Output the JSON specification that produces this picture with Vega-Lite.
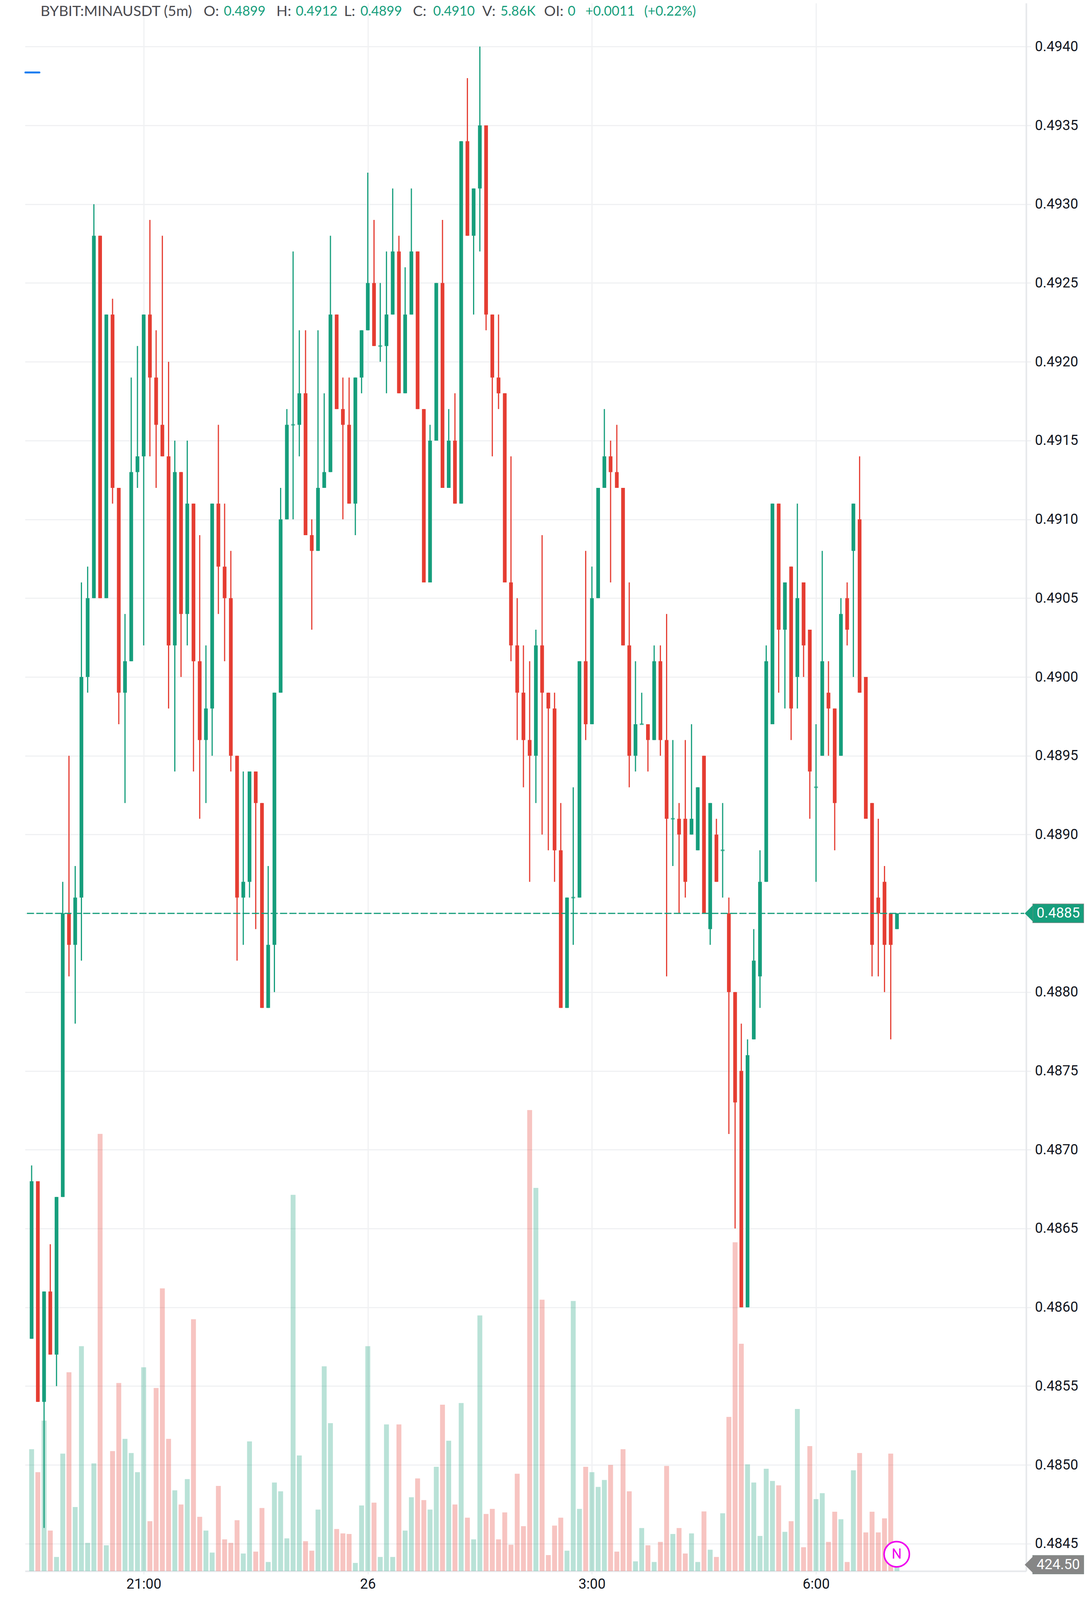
{"$schema":"https://vega.github.io/schema/vega-lite/v6.json","width":2563,"height":4014,"autosize":{"type":"none"},"padding":{"left":64,"top":8,"right":166,"bottom":70},"background":"white","config":{"view":{"stroke":null}},
"datasets":{"candles":[
{"t":"2024-01-25T19:30:00Z","o":0.4858,"h":0.4869,"l":0.4858,"c":0.4868,"v":8877,"d":"up"},
{"t":"2024-01-25T19:35:00Z","o":0.4868,"h":0.4868,"l":0.4854,"c":0.4854,"v":7207,"d":"down"},
{"t":"2024-01-25T19:40:00Z","o":0.4854,"h":0.4861,"l":0.4846,"c":0.4861,"v":10960,"d":"up"},
{"t":"2024-01-25T19:45:00Z","o":0.4861,"h":0.4864,"l":0.4857,"c":0.4857,"v":2952,"d":"down"},
{"t":"2024-01-25T19:50:00Z","o":0.4857,"h":0.4867,"l":0.4855,"c":0.4867,"v":1030,"d":"up"},
{"t":"2024-01-25T19:55:00Z","o":0.4867,"h":0.4887,"l":0.4867,"c":0.4885,"v":8557,"d":"up"},
{"t":"2024-01-25T20:00:00Z","o":0.4885,"h":0.4895,"l":0.4881,"c":0.4883,"v":14483,"d":"down"},
{"t":"2024-01-25T20:05:00Z","o":0.4883,"h":0.4888,"l":0.4878,"c":0.4886,"v":4668,"d":"up"},
{"t":"2024-01-25T20:10:00Z","o":0.4886,"h":0.4906,"l":0.4882,"c":0.49,"v":16382,"d":"up"},
{"t":"2024-01-25T20:15:00Z","o":0.49,"h":0.4907,"l":0.4899,"c":0.4905,"v":2059,"d":"up"},
{"t":"2024-01-25T20:20:00Z","o":0.4905,"h":0.493,"l":0.4905,"c":0.4928,"v":7848,"d":"up"},
{"t":"2024-01-25T20:25:00Z","o":0.4928,"h":0.4928,"l":0.4905,"c":0.4905,"v":31849,"d":"down"},
{"t":"2024-01-25T20:30:00Z","o":0.4905,"h":0.4923,"l":0.4905,"c":0.4923,"v":1876,"d":"up"},
{"t":"2024-01-25T20:35:00Z","o":0.4923,"h":0.4924,"l":0.4911,"c":0.4912,"v":8740,"d":"down"},
{"t":"2024-01-25T20:40:00Z","o":0.4912,"h":0.4912,"l":0.4897,"c":0.4899,"v":13705,"d":"down"},
{"t":"2024-01-25T20:45:00Z","o":0.4899,"h":0.4904,"l":0.4892,"c":0.4901,"v":9632,"d":"up"},
{"t":"2024-01-25T20:50:00Z","o":0.4901,"h":0.4919,"l":0.4901,"c":0.4913,"v":8603,"d":"up"},
{"t":"2024-01-25T20:55:00Z","o":0.4913,"h":0.4921,"l":0.4912,"c":0.4914,"v":7207,"d":"up"},
{"t":"2024-01-25T21:00:00Z","o":0.4914,"h":0.4923,"l":0.4902,"c":0.4923,"v":14849,"d":"up"},
{"t":"2024-01-25T21:05:00Z","o":0.4923,"h":0.4929,"l":0.4914,"c":0.4919,"v":3638,"d":"down"},
{"t":"2024-01-25T21:10:00Z","o":0.4919,"h":0.4922,"l":0.4912,"c":0.4916,"v":13339,"d":"down"},
{"t":"2024-01-25T21:15:00Z","o":0.4916,"h":0.4928,"l":0.4914,"c":0.4914,"v":20592,"d":"down"},
{"t":"2024-01-25T21:20:00Z","o":0.4914,"h":0.492,"l":0.4898,"c":0.4902,"v":9632,"d":"down"},
{"t":"2024-01-25T21:25:00Z","o":0.4902,"h":0.4915,"l":0.4894,"c":0.4913,"v":5880,"d":"up"},
{"t":"2024-01-25T21:30:00Z","o":0.4913,"h":0.4913,"l":0.49,"c":0.4904,"v":4851,"d":"down"},
{"t":"2024-01-25T21:35:00Z","o":0.4904,"h":0.4915,"l":0.4902,"c":0.4911,"v":6704,"d":"up"},
{"t":"2024-01-25T21:40:00Z","o":0.4911,"h":0.4911,"l":0.4894,"c":0.4901,"v":18350,"d":"down"},
{"t":"2024-01-25T21:45:00Z","o":0.4901,"h":0.4909,"l":0.4891,"c":0.4896,"v":3958,"d":"down"},
{"t":"2024-01-25T21:50:00Z","o":0.4896,"h":0.4902,"l":0.4892,"c":0.4898,"v":2952,"d":"up"},
{"t":"2024-01-25T21:55:00Z","o":0.4898,"h":0.4911,"l":0.4895,"c":0.4911,"v":1350,"d":"up"},
{"t":"2024-01-25T22:00:00Z","o":0.4911,"h":0.4916,"l":0.4904,"c":0.4907,"v":6200,"d":"down"},
{"t":"2024-01-25T22:05:00Z","o":0.4907,"h":0.4911,"l":0.4901,"c":0.4905,"v":2311,"d":"down"},
{"t":"2024-01-25T22:10:00Z","o":0.4905,"h":0.4908,"l":0.4894,"c":0.4895,"v":2059,"d":"down"},
{"t":"2024-01-25T22:15:00Z","o":0.4895,"h":0.4895,"l":0.4882,"c":0.4886,"v":3707,"d":"down"},
{"t":"2024-01-25T22:20:00Z","o":0.4886,"h":0.4894,"l":0.4883,"c":0.4887,"v":1281,"d":"up"},
{"t":"2024-01-25T22:25:00Z","o":0.4887,"h":0.4894,"l":0.4886,"c":0.4894,"v":9449,"d":"up"},
{"t":"2024-01-25T22:30:00Z","o":0.4894,"h":0.4894,"l":0.4884,"c":0.4892,"v":1419,"d":"down"},
{"t":"2024-01-25T22:35:00Z","o":0.4892,"h":0.4892,"l":0.4879,"c":0.4879,"v":4599,"d":"down"},
{"t":"2024-01-25T22:40:00Z","o":0.4879,"h":0.4888,"l":0.4879,"c":0.4883,"v":664,"d":"up"},
{"t":"2024-01-25T22:45:00Z","o":0.4883,"h":0.4899,"l":0.488,"c":0.4899,"v":6452,"d":"up"},
{"t":"2024-01-25T22:50:00Z","o":0.4899,"h":0.4912,"l":0.4899,"c":0.491,"v":5812,"d":"up"},
{"t":"2024-01-25T22:55:00Z","o":0.491,"h":0.4917,"l":0.491,"c":0.4916,"v":2380,"d":"up"},
{"t":"2024-01-25T23:00:00Z","o":0.4916,"h":0.4927,"l":0.491,"c":0.4916,"v":27410,"d":"up"},
{"t":"2024-01-25T23:05:00Z","o":0.4916,"h":0.4922,"l":0.4914,"c":0.4918,"v":8420,"d":"up"},
{"t":"2024-01-25T23:10:00Z","o":0.4918,"h":0.4922,"l":0.4909,"c":0.4909,"v":2174,"d":"down"},
{"t":"2024-01-25T23:15:00Z","o":0.4909,"h":0.491,"l":0.4903,"c":0.4908,"v":1487,"d":"down"},
{"t":"2024-01-25T23:20:00Z","o":0.4908,"h":0.4922,"l":0.4908,"c":0.4912,"v":4484,"d":"up"},
{"t":"2024-01-25T23:25:00Z","o":0.4912,"h":0.4918,"l":0.4912,"c":0.4913,"v":14918,"d":"up"},
{"t":"2024-01-25T23:30:00Z","o":0.4913,"h":0.4928,"l":0.4913,"c":0.4923,"v":10776,"d":"up"},
{"t":"2024-01-25T23:35:00Z","o":0.4923,"h":0.4923,"l":0.4917,"c":0.4917,"v":3066,"d":"down"},
{"t":"2024-01-25T23:40:00Z","o":0.4917,"h":0.4919,"l":0.491,"c":0.4916,"v":2746,"d":"down"},
{"t":"2024-01-25T23:45:00Z","o":0.4916,"h":0.4919,"l":0.4911,"c":0.4911,"v":2700,"d":"down"},
{"t":"2024-01-25T23:50:00Z","o":0.4911,"h":0.4919,"l":0.4909,"c":0.4919,"v":595,"d":"up"},
{"t":"2024-01-25T23:55:00Z","o":0.4919,"h":0.4922,"l":0.4918,"c":0.4922,"v":4782,"d":"up"},
{"t":"2024-01-26T00:00:00Z","o":0.4922,"h":0.4932,"l":0.4922,"c":0.4925,"v":16382,"d":"up"},
{"t":"2024-01-26T00:05:00Z","o":0.4925,"h":0.4929,"l":0.4921,"c":0.4921,"v":4988,"d":"down"},
{"t":"2024-01-26T00:10:00Z","o":0.4921,"h":0.4925,"l":0.492,"c":0.4921,"v":1030,"d":"up"},
{"t":"2024-01-26T00:15:00Z","o":0.4921,"h":0.4927,"l":0.4918,"c":0.4923,"v":10685,"d":"up"},
{"t":"2024-01-26T00:20:00Z","o":0.4923,"h":0.4931,"l":0.4923,"c":0.4927,"v":1030,"d":"up"},
{"t":"2024-01-26T00:25:00Z","o":0.4927,"h":0.4928,"l":0.4918,"c":0.4918,"v":10685,"d":"down"},
{"t":"2024-01-26T00:30:00Z","o":0.4918,"h":0.4926,"l":0.4918,"c":0.4923,"v":2952,"d":"up"},
{"t":"2024-01-26T00:35:00Z","o":0.4923,"h":0.4931,"l":0.4923,"c":0.4927,"v":5377,"d":"up"},
{"t":"2024-01-26T00:40:00Z","o":0.4927,"h":0.4927,"l":0.4917,"c":0.4917,"v":6750,"d":"down"},
{"t":"2024-01-26T00:45:00Z","o":0.4917,"h":0.4917,"l":0.4906,"c":0.4906,"v":5171,"d":"down"},
{"t":"2024-01-26T00:50:00Z","o":0.4906,"h":0.4916,"l":0.4906,"c":0.4915,"v":4484,"d":"up"},
{"t":"2024-01-26T00:55:00Z","o":0.4915,"h":0.4925,"l":0.4915,"c":0.4925,"v":7596,"d":"up"},
{"t":"2024-01-26T01:00:00Z","o":0.4925,"h":0.4929,"l":0.4912,"c":0.4912,"v":12126,"d":"down"},
{"t":"2024-01-26T01:05:00Z","o":0.4912,"h":0.4917,"l":0.4912,"c":0.4915,"v":9495,"d":"up"},
{"t":"2024-01-26T01:10:00Z","o":0.4915,"h":0.4918,"l":0.4911,"c":0.4911,"v":4851,"d":"down"},
{"t":"2024-01-26T01:15:00Z","o":0.4911,"h":0.4934,"l":0.4911,"c":0.4934,"v":12241,"d":"up"},
{"t":"2024-01-26T01:20:00Z","o":0.4934,"h":0.4938,"l":0.4928,"c":0.4928,"v":3890,"d":"down"},
{"t":"2024-01-26T01:25:00Z","o":0.4928,"h":0.4931,"l":0.4923,"c":0.4931,"v":2311,"d":"up"},
{"t":"2024-01-26T01:30:00Z","o":0.4931,"h":0.494,"l":0.4927,"c":0.4935,"v":18624,"d":"up"},
{"t":"2024-01-26T01:35:00Z","o":0.4935,"h":0.4935,"l":0.4922,"c":0.4923,"v":4164,"d":"down"},
{"t":"2024-01-26T01:40:00Z","o":0.4923,"h":0.4923,"l":0.4914,"c":0.4919,"v":4530,"d":"down"},
{"t":"2024-01-26T01:45:00Z","o":0.4919,"h":0.4923,"l":0.4917,"c":0.4918,"v":2311,"d":"down"},
{"t":"2024-01-26T01:50:00Z","o":0.4918,"h":0.4918,"l":0.4906,"c":0.4906,"v":4279,"d":"down"},
{"t":"2024-01-26T01:55:00Z","o":0.4906,"h":0.4914,"l":0.4901,"c":0.4902,"v":1922,"d":"down"},
{"t":"2024-01-26T02:00:00Z","o":0.4902,"h":0.4905,"l":0.4896,"c":0.4899,"v":7093,"d":"down"},
{"t":"2024-01-26T02:05:00Z","o":0.4899,"h":0.4902,"l":0.4893,"c":0.4896,"v":3272,"d":"down"},
{"t":"2024-01-26T02:10:00Z","o":0.4896,"h":0.4901,"l":0.4887,"c":0.4895,"v":33588,"d":"down"},
{"t":"2024-01-26T02:15:00Z","o":0.4895,"h":0.4903,"l":0.4892,"c":0.4902,"v":27914,"d":"up"},
{"t":"2024-01-26T02:20:00Z","o":0.4902,"h":0.4909,"l":0.489,"c":0.4899,"v":19768,"d":"down"},
{"t":"2024-01-26T02:25:00Z","o":0.4899,"h":0.4899,"l":0.4889,"c":0.4898,"v":1167,"d":"down"},
{"t":"2024-01-26T02:30:00Z","o":0.4898,"h":0.4899,"l":0.4887,"c":0.4889,"v":3318,"d":"down"},
{"t":"2024-01-26T02:35:00Z","o":0.4889,"h":0.4892,"l":0.4879,"c":0.4879,"v":3890,"d":"down"},
{"t":"2024-01-26T02:40:00Z","o":0.4879,"h":0.4886,"l":0.4879,"c":0.4886,"v":1487,"d":"up"},
{"t":"2024-01-26T02:45:00Z","o":0.4886,"h":0.4893,"l":0.4883,"c":0.4886,"v":19677,"d":"up"},
{"t":"2024-01-26T02:50:00Z","o":0.4886,"h":0.4901,"l":0.4886,"c":0.4901,"v":4530,"d":"up"},
{"t":"2024-01-26T02:55:00Z","o":0.4901,"h":0.4908,"l":0.4896,"c":0.4897,"v":7596,"d":"down"},
{"t":"2024-01-26T03:00:00Z","o":0.4897,"h":0.4907,"l":0.4897,"c":0.4905,"v":7207,"d":"up"},
{"t":"2024-01-26T03:05:00Z","o":0.4905,"h":0.4912,"l":0.4905,"c":0.4912,"v":6132,"d":"up"},
{"t":"2024-01-26T03:10:00Z","o":0.4912,"h":0.4917,"l":0.4912,"c":0.4914,"v":6635,"d":"up"},
{"t":"2024-01-26T03:15:00Z","o":0.4914,"h":0.4915,"l":0.4906,"c":0.4913,"v":7733,"d":"down"},
{"t":"2024-01-26T03:20:00Z","o":0.4913,"h":0.4916,"l":0.4912,"c":0.4912,"v":1419,"d":"down"},
{"t":"2024-01-26T03:25:00Z","o":0.4912,"h":0.4912,"l":0.4902,"c":0.4902,"v":8877,"d":"down"},
{"t":"2024-01-26T03:30:00Z","o":0.4902,"h":0.4906,"l":0.4893,"c":0.4895,"v":5812,"d":"down"},
{"t":"2024-01-26T03:35:00Z","o":0.4895,"h":0.4901,"l":0.4894,"c":0.4897,"v":709,"d":"up"},
{"t":"2024-01-26T03:40:00Z","o":0.4897,"h":0.4899,"l":0.4897,"c":0.4897,"v":3135,"d":"up"},
{"t":"2024-01-26T03:45:00Z","o":0.4897,"h":0.4897,"l":0.4894,"c":0.4896,"v":1876,"d":"down"},
{"t":"2024-01-26T03:50:00Z","o":0.4896,"h":0.4902,"l":0.4896,"c":0.4901,"v":664,"d":"up"},
{"t":"2024-01-26T03:55:00Z","o":0.4901,"h":0.4902,"l":0.4895,"c":0.4896,"v":2128,"d":"down"},
{"t":"2024-01-26T04:00:00Z","o":0.4896,"h":0.4904,"l":0.4881,"c":0.4891,"v":7665,"d":"down"},
{"t":"2024-01-26T04:05:00Z","o":0.4891,"h":0.4896,"l":0.4888,"c":0.4891,"v":2700,"d":"up"},
{"t":"2024-01-26T04:10:00Z","o":0.4891,"h":0.4892,"l":0.4885,"c":0.489,"v":3135,"d":"down"},
{"t":"2024-01-26T04:15:00Z","o":0.4891,"h":0.4896,"l":0.4886,"c":0.4887,"v":1281,"d":"down"},
{"t":"2024-01-26T04:20:00Z","o":0.489,"h":0.4897,"l":0.489,"c":0.4891,"v":2746,"d":"up"},
{"t":"2024-01-26T04:25:00Z","o":0.4889,"h":0.4893,"l":0.4889,"c":0.4893,"v":664,"d":"up"},
{"t":"2024-01-26T04:30:00Z","o":0.4895,"h":0.4895,"l":0.4885,"c":0.4885,"v":4347,"d":"down"},
{"t":"2024-01-26T04:35:00Z","o":0.4884,"h":0.4892,"l":0.4883,"c":0.4892,"v":1556,"d":"up"},
{"t":"2024-01-26T04:40:00Z","o":0.489,"h":0.4891,"l":0.4887,"c":0.4887,"v":1030,"d":"down"},
{"t":"2024-01-26T04:45:00Z","o":0.4889,"h":0.4892,"l":0.4886,"c":0.4889,"v":4210,"d":"up"},
{"t":"2024-01-26T04:50:00Z","o":0.4885,"h":0.4886,"l":0.4871,"c":0.488,"v":11234,"d":"down"},
{"t":"2024-01-26T04:55:00Z","o":0.488,"h":0.488,"l":0.4865,"c":0.4873,"v":23955,"d":"down"},
{"t":"2024-01-26T05:00:00Z","o":0.4875,"h":0.4878,"l":0.486,"c":0.486,"v":16565,"d":"down"},
{"t":"2024-01-26T05:05:00Z","o":0.486,"h":0.4877,"l":0.486,"c":0.4876,"v":7779,"d":"up"},
{"t":"2024-01-26T05:10:00Z","o":0.4877,"h":0.4884,"l":0.4877,"c":0.4882,"v":6452,"d":"up"},
{"t":"2024-01-26T05:15:00Z","o":0.4881,"h":0.4889,"l":0.4879,"c":0.4887,"v":2563,"d":"up"},
{"t":"2024-01-26T05:20:00Z","o":0.4887,"h":0.4902,"l":0.4887,"c":0.4901,"v":7459,"d":"up"},
{"t":"2024-01-26T05:25:00Z","o":0.4897,"h":0.4911,"l":0.4897,"c":0.4911,"v":6567,"d":"up"},
{"t":"2024-01-26T05:30:00Z","o":0.4911,"h":0.4911,"l":0.4899,"c":0.4903,"v":6246,"d":"down"},
{"t":"2024-01-26T05:35:00Z","o":0.4903,"h":0.4906,"l":0.4898,"c":0.4906,"v":2860,"d":"up"},
{"t":"2024-01-26T05:40:00Z","o":0.4907,"h":0.4907,"l":0.4896,"c":0.4898,"v":3638,"d":"down"},
{"t":"2024-01-26T05:45:00Z","o":0.49,"h":0.4911,"l":0.4898,"c":0.4905,"v":11806,"d":"up"},
{"t":"2024-01-26T05:50:00Z","o":0.4906,"h":0.4906,"l":0.49,"c":0.4902,"v":1739,"d":"down"},
{"t":"2024-01-26T05:55:00Z","o":0.4903,"h":0.4903,"l":0.4891,"c":0.4894,"v":9106,"d":"down"},
{"t":"2024-01-26T06:00:00Z","o":0.4893,"h":0.4897,"l":0.4887,"c":0.4893,"v":5240,"d":"up"},
{"t":"2024-01-26T06:05:00Z","o":0.4895,"h":0.4908,"l":0.4895,"c":0.4901,"v":5674,"d":"up"},
{"t":"2024-01-26T06:10:00Z","o":0.4899,"h":0.4901,"l":0.4895,"c":0.4898,"v":2128,"d":"down"},
{"t":"2024-01-26T06:15:00Z","o":0.4898,"h":0.4898,"l":0.4889,"c":0.4892,"v":4324,"d":"down"},
{"t":"2024-01-26T06:20:00Z","o":0.4895,"h":0.4905,"l":0.4895,"c":0.4904,"v":3775,"d":"up"},
{"t":"2024-01-26T06:25:00Z","o":0.4905,"h":0.4906,"l":0.4902,"c":0.4903,"v":664,"d":"down"},
{"t":"2024-01-26T06:30:00Z","o":0.4908,"h":0.4911,"l":0.49,"c":0.4911,"v":7345,"d":"up"},
{"t":"2024-01-26T06:35:00Z","o":0.491,"h":0.4914,"l":0.4899,"c":0.4899,"v":8603,"d":"down"},
{"t":"2024-01-26T06:40:00Z","o":0.49,"h":0.49,"l":0.4891,"c":0.4891,"v":2814,"d":"down"},
{"t":"2024-01-26T06:45:00Z","o":0.4892,"h":0.4892,"l":0.4881,"c":0.4883,"v":4324,"d":"down"},
{"t":"2024-01-26T06:50:00Z","o":0.4886,"h":0.4891,"l":0.4881,"c":0.4885,"v":2814,"d":"down"},
{"t":"2024-01-26T06:55:00Z","o":0.4887,"h":0.4888,"l":0.488,"c":0.4883,"v":3844,"d":"down"},
{"t":"2024-01-26T07:00:00Z","o":0.4885,"h":0.4885,"l":0.4877,"c":0.4883,"v":8557,"d":"down"},
{"t":"2024-01-26T07:05:00Z","o":0.4884,"h":0.4885,"l":0.4884,"c":0.4885,"v":424.5,"d":"up"}
],
"header":[
{"t":"2024-01-25T19:37:11Z","p":0.494221,"label":"BYBIT:MINAUSDT (5m)","k":"text"},
{"t":"2024-01-25T21:48:08Z","p":0.494221,"label":"O:","k":"text"},
{"t":"2024-01-25T22:04:22Z","p":0.494221,"label":"0.4899","k":"up"},
{"t":"2024-01-25T22:46:34Z","p":0.494221,"label":"H:","k":"text"},
{"t":"2024-01-25T23:02:11Z","p":0.494221,"label":"0.4912","k":"up"},
{"t":"2024-01-25T23:40:56Z","p":0.494221,"label":"L:","k":"text"},
{"t":"2024-01-25T23:54:04Z","p":0.494221,"label":"0.4899","k":"up"},
{"t":"2024-01-26T00:36:15Z","p":0.494221,"label":"C:","k":"text"},
{"t":"2024-01-26T00:52:30Z","p":0.494221,"label":"0.4910","k":"up"},
{"t":"2024-01-26T01:31:52Z","p":0.494221,"label":"V:","k":"text"},
{"t":"2024-01-26T01:46:34Z","p":0.494221,"label":"5.86K","k":"up"},
{"t":"2024-01-26T02:21:34Z","p":0.494221,"label":"OI:","k":"text"},
{"t":"2024-01-26T02:40:38Z","p":0.494221,"label":"0","k":"up"},
{"t":"2024-01-26T02:54:50Z","p":0.494221,"label":"+0.0011","k":"up"},
{"t":"2024-01-26T03:42:00Z","p":0.494221,"label":"(+0.22%)","k":"up"}
],
"tags":[
{"t":"2024-01-26T08:54:04Z","t2":"2024-01-26T09:35:00Z","tm":"2024-01-26T09:14:32Z","p":0.4885,"p1":0.48856,"p2":0.48844,"label":"0.4885","k":"up"},
{"t":"2024-01-26T08:54:04Z","t2":"2024-01-26T09:35:00Z","tm":"2024-01-26T09:14:32Z","p":0.484366,"p1":0.484425,"p2":0.484308,"label":"424.50","k":"volume"}
],
"last":[{"p":0.4885,"t":"2024-01-25T19:26:15Z","t2":"2024-01-26T08:47:12Z"}],
"dash":[{"p":0.493836,"t":"2024-01-25T19:25:00Z","t2":"2024-01-25T19:36:15Z"}],
"marker":[{"t":"2024-01-26T07:04:49Z","p":0.484433,"label":"N"}]
},
"encoding":{"x":{"field":"t","type":"temporal","title":null,"scale":{"type":"utc","nice":false,"domain":[{"year":2024,"month":1,"date":25,"hours":19,"minutes":26,"seconds":15,"utc":true},{"year":2024,"month":1,"date":26,"hours":8,"minutes":47,"seconds":12,"utc":true}]},
"axis":{"values":[{"year":2024,"month":1,"date":25,"hours":21,"utc":true},{"year":2024,"month":1,"date":26,"hours":0,"utc":true},{"year":2024,"month":1,"date":26,"hours":3,"utc":true},{"year":2024,"month":1,"date":26,"hours":6,"utc":true}],
"labelExpr":"utcFormat(datum.value,'%H')=='00' ? utcFormat(datum.value,'%d') : utcFormat(datum.value,'%-H:%M')",
"grid":true,"gridColor":"#f0f1f3","gridWidth":3,"domain":true,"domainColor":"#e6e8eb","domainWidth":4,"ticks":true,"tickSize":8,"tickWidth":3,"tickColor":"#f0f1f3","labelFont":"Roboto","labelFontSize":36,"labelColor":"#131722","labelPadding":8,"labelFlush":false,"labelOverlap":false}}},
"resolve":{"scale":{"y":"independent"}},
"layer":[
{"data":{"name":"candles"},"mark":{"type":"bar","width":12.5,"opacity":0.3},"encoding":{"y":{"field":"v","type":"quantitative","stack":null,"axis":null,"scale":{"domain":[0,114225],"nice":false,"zero":true}},"color":{"field":"d","type":"nominal","legend":null,"scale":{"domain":["up","down","text","white","volume"],"range":["#169e7c","#e53d32","#4a4a4f","#ffffff","#868686"]}}}},
{"layer":[
{"data":{"name":"candles"},"mark":{"type":"rule","strokeWidth":3},"encoding":{"y":{"field":"l","type":"quantitative","title":null,"scale":{"domain":[0.484326,0.494276],"nice":false,"zero":false},"axis":{"orient":"right","values":[0.4845,0.485,0.4855,0.486,0.4865,0.487,0.4875,0.488,0.4885,0.489,0.4895,0.49,0.4905,0.491,0.4915,0.492,0.4925,0.493,0.4935,0.494],"format":".4f","grid":true,"gridColor":"#f0f1f3","gridWidth":3,"domain":true,"domainColor":"#e6e8eb","domainWidth":4,"ticks":true,"tickSize":12,"tickWidth":3,"tickColor":"#f0f1f3","labelFont":"Roboto","labelFontSize":36,"labelColor":"#131722","labelPadding":10,"labelOverlap":false,"labelFlush":false}},"y2":{"field":"h"},"color":{"field":"d","type":"nominal","legend":null,"scale":{"domain":["up","down","text","white","volume"],"range":["#169e7c","#e53d32","#4a4a4f","#ffffff","#868686"]}}}},
{"data":{"name":"candles"},"mark":{"type":"rule","strokeWidth":9.5},"encoding":{"y":{"field":"o","type":"quantitative"},"y2":{"field":"c"},"color":{"field":"d","type":"nominal","legend":null}}},
{"data":{"name":"candles"},"transform":[{"filter":"datum.o==datum.c"}],"mark":{"type":"tick","orient":"horizontal","size":10,"thickness":4},"encoding":{"y":{"field":"o","type":"quantitative"},"color":{"field":"d","type":"nominal","legend":null}}},
{"data":{"name":"last"},"mark":{"type":"rule","strokeWidth":3,"strokeDash":[18,6],"color":"#169e7c"},"encoding":{"y":{"field":"p","type":"quantitative"},"x2":{"field":"t2"}}},
{"data":{"name":"dash"},"mark":{"type":"rule","strokeWidth":5,"strokeCap":"round","color":"#1a7ff0"},"encoding":{"y":{"field":"p","type":"quantitative"},"x2":{"field":"t2"}}},
{"data":{"name":"header"},"transform":[{"filter":"datum.k=='text'"}],"mark":{"type":"text","align":"left","baseline":"middle","font":"Lato","fontSize":37.5},"encoding":{"y":{"field":"p","type":"quantitative"},"text":{"field":"label"},"color":{"field":"k","type":"nominal","legend":null}}},
{"data":{"name":"header"},"transform":[{"filter":"datum.k=='up'"}],"mark":{"type":"text","align":"left","baseline":"middle","font":"Lato","fontSize":34},"encoding":{"y":{"field":"p","type":"quantitative"},"text":{"field":"label"},"color":{"field":"k","type":"nominal","legend":null}}},
{"data":{"name":"tags"},"mark":{"type":"rect","stroke":"#808a87","strokeWidth":1.5},"encoding":{"y":{"field":"p1","type":"quantitative"},"y2":{"field":"p2"},"x2":{"field":"t2"},"color":{"field":"k","type":"nominal","legend":null}}},
{"data":{"name":"tags"},"mark":{"type":"point","shape":"M-1,0L0,-1L0,1Z","filled":true,"size":1681,"opacity":1},"encoding":{"y":{"field":"p","type":"quantitative"},"color":{"field":"k","type":"nominal","legend":null}}},
{"data":{"name":"tags"},"mark":{"type":"text","align":"center","baseline":"middle","font":"Roboto","fontSize":36,"color":"#ffffff"},"encoding":{"x":{"field":"tm","type":"temporal"},"y":{"field":"p","type":"quantitative"},"text":{"field":"label"}}},
{"data":{"name":"marker"},"mark":{"type":"point","shape":"circle","filled":false,"fill":"#ffffff","fillOpacity":1,"opacity":1,"stroke":"#ee00ee","strokeWidth":4,"size":4185},"encoding":{"y":{"field":"p","type":"quantitative"}}},
{"data":{"name":"marker"},"mark":{"type":"text","align":"center","baseline":"middle","font":"Roboto","fontSize":36,"color":"#ee00ee"},"encoding":{"y":{"field":"p","type":"quantitative"},"text":{"field":"label"}}}
]}
]}
